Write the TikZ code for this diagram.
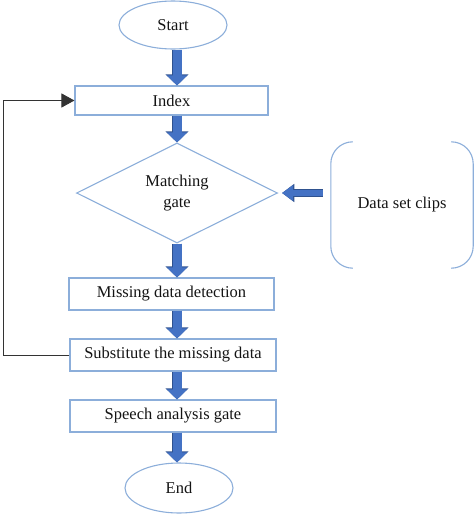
\documentclass[tikz,border=0pt]{standalone}
\usepackage{fontspec}
\setmainfont{Liberation Serif}
\usetikzlibrary{arrows.meta,shapes.geometric,positioning}
\definecolor{boxline}{RGB}{140,174,218}
\definecolor{arrowfill}{RGB}{68,114,196}
\definecolor{arrowedge}{RGB}{47,82,143}
\definecolor{txt}{RGB}{20,20,20}

\begin{document}
\begin{tikzpicture}[x=1pt,y=1pt,on grid,node font=\fontsize{16.5}{21}\selectfont,text=txt]
	\tikzstyle{term}=[ellipse,draw=boxline,line width=1.1pt,minimum width=108pt,minimum height=48pt,inner sep=0pt]
	\tikzstyle{proc}=[rectangle,draw=boxline,line width=1.1pt,minimum height=32pt,inner sep=0pt]
	\tikzstyle{gate}=[diamond,draw=boxline,line width=1.1pt,minimum width=201pt,minimum height=100pt,inner sep=0pt,align=center]
	\tikzstyle{bracket}=[draw=boxline,line width=1.1pt]
	\tikzstyle{bigarrow}=[draw=arrowfill,line width=9pt,-{Triangle[width=20pt,length=10pt]},preaction={draw=arrowedge,line width=10.4pt,-{Triangle[width=22.5pt,length=11.2pt]}}]
	\tikzstyle{smallarrow}=[draw=arrowfill,line width=6pt,shorten <=8pt,shorten >=4pt,-{Triangle[width=15pt,length=11pt]},preaction={draw=arrowedge,line width=7.4pt,-{Triangle[width=17.5pt,length=12.2pt]}}]
	\tikzstyle{loopline}=[draw=black!80,line width=1pt,-{Triangle[width=14pt,length=13pt]}]
	
	\useasboundingbox (0,0) rectangle (474,-514);
	
	\node[term]                            (START) at (173,-25)                   {Start};
	\node[proc,minimum width=193pt,minimum height=29pt] (IDX) [below=75.5pt of START,xshift=-1.5pt] {Index};
	\node[gate]                            (MG)  [below=92.5pt of IDX,xshift=5.5pt] {Matching\\gate};
	\node[proc,minimum width=205pt]        (MDD) [below=101pt of MG,xshift=-5.5pt] {Missing data detection};
	\node[proc,minimum width=206pt]        (SMD) [below=61pt of MDD,xshift=1.5pt] {Substitute the missing data};
	\node[proc,minimum width=206pt]        (SAG) [below=61pt of SMD]              {Speech analysis gate};
	\node[term,minimum height=50pt]        (END) [below=72pt of SAG,xshift=6pt]   {End};
	\node[minimum width=142pt,minimum height=126pt] (DSC) [right=225pt of MG,yshift=-12pt] {Data set clips};
	\coordinate (FB) at (3,0);
	
	% brackets round the clips
	\draw[bracket] ([xshift=22pt]DSC.north west) to[out=180,in=90] ([yshift=-22pt]DSC.north west)
		-- ([yshift=22pt]DSC.south west) to[out=-90,in=180] ([xshift=22pt]DSC.south west);
	\draw[bracket] ([xshift=-22pt]DSC.north east) to[out=0,in=90] ([yshift=-22pt]DSC.north east)
		-- ([yshift=22pt]DSC.south east) to[out=-90,in=0] ([xshift=-22pt]DSC.south east);
	
	\path
	(START.south -| MG) edge[bigarrow] (IDX.north -| MG)
	(IDX.south -| MG) edge[bigarrow] (MG.north)
	(MG.south) edge[bigarrow] (MDD.north -| MG)
	(MDD.south -| MG) edge[bigarrow] (SMD.north -| MG)
	(SMD.south -| MG) edge[bigarrow] (SAG.north -| MG)
	(SAG.south -| MG) edge[bigarrow] (END.north -| MG)
	(DSC.west |- MG) edge[smallarrow] (MG.east);
	
	\draw[loopline] (SMD.west) -- (SMD.west -| FB) |- (IDX.west);
\end{tikzpicture}
\end{document}
